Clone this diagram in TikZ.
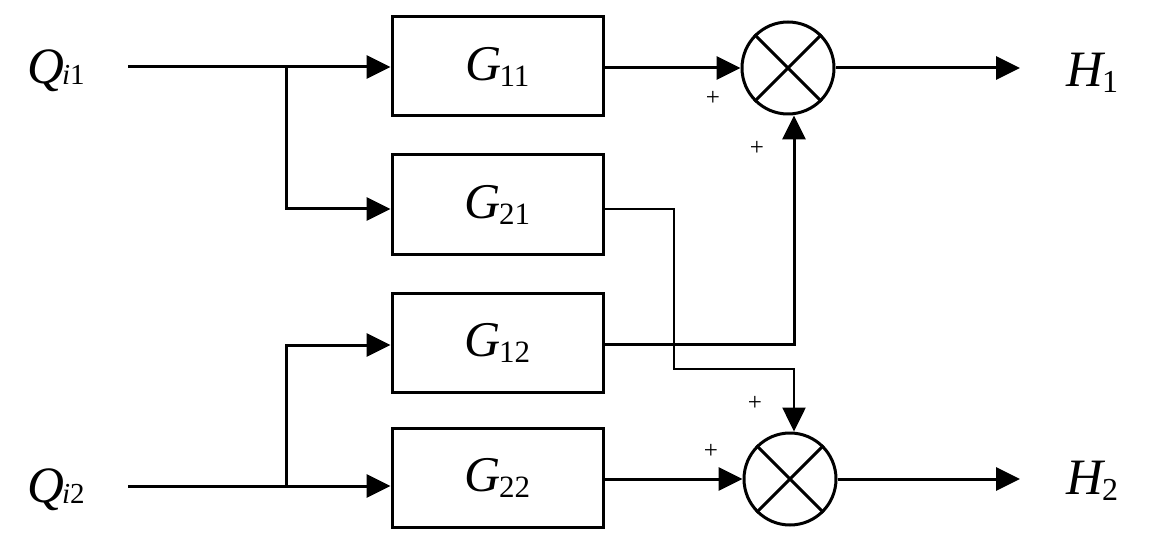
\documentclass[tikz,border=0pt]{standalone}
\usepackage{fontspec}
\setmainfont{Liberation Serif}
\usetikzlibrary{arrows.meta}
\tikzset{
  blk/.style={draw, line width=3pt, minimum width=211pt, minimum height=99pt, inner sep=0pt,
              font=\fontsize{50}{54}\selectfont},
  sumj/.style={draw, circle, line width=3pt, minimum size=92pt, inner sep=0pt},
  wire/.style={line width=3pt},
  arr/.style={wire, -{Triangle[length=24pt,width=23pt]}},
  pls/.style={inner sep=0pt, font=\fontsize{25}{25}\selectfont},
  lbl/.style={inner sep=0pt, anchor=base west, font=\fontsize{51}{54}\selectfont}
}
\newcommand{\gsub}[1]{{\itshape G}\kern-2pt\raisebox{-6pt}{\fontsize{31}{31}\selectfont #1}}
\begin{document}
\begin{tikzpicture}[x=1pt,y=-1pt]
\useasboundingbox (0,0) rectangle (1150,545);
% blocks
\node[blk] (g11) at (497.5,66.5) {\gsub{11}};
\node[blk] (g21) at (497.5,204.5) {\gsub{21}};
\node[blk] (g12) at (497.5,342.5) {\gsub{12}};
\node[blk] (g22) at (497.5,477.5) {\gsub{22}};
% summing junctions
\node[sumj] (s1) at (788,68) {};
\node[sumj] (s2) at (790,479) {};
\draw[wire] (s1.north west) -- (s1.south east) (s1.north east) -- (s1.south west);
\draw[wire] (s2.north west) -- (s2.south east) (s2.north east) -- (s2.south west);
% labels
\node[lbl] (lq1) at (27,84) {{\itshape Q}\kern-2pt\raisebox{-1pt}{\fontsize{29}{29}\selectfont\itshape i\upshape 1}};
\node[lbl] (lq2) at (27,502) {{\itshape Q}\kern-2pt\raisebox{-1pt}{\fontsize{29}{29}\selectfont\itshape i\upshape 2}};
\node[lbl] (lh1) at (1066,87) {{\itshape H}\kern-1pt\raisebox{-6pt}{\fontsize{32}{32}\selectfont 1}};
\node[lbl] (lh2) at (1066,494) {{\itshape H}\kern-1pt\raisebox{-6pt}{\fontsize{32}{32}\selectfont 2}};
% coordinates
\coordinate (q1) at (128,67);
\coordinate (q2) at (128,486);
\coordinate (j1) at (286,67);
\coordinate (j2) at (286,486);
\coordinate (h1) at (1020,68);
\coordinate (h2) at (1020,479);
\coordinate (c21) at (674,369);
% inputs
\draw[arr] (q1) -- (q1 -| g11.west);
\draw[arr] (j1) |- (g21.west |- 0,209);
\draw[arr] (q2) -- (q2 -| g22.west);
\draw[arr] (j2) |- (g12.west |- 0,345);
% outputs of blocks
\draw[arr] (g11.east |- 0,68) -- (s1.west);
\draw[arr] (g22.east |- 0,479) -- (s2.west);
\draw[arr] (g12.east |- 0,344) -| ([xshift=6pt]s1.south);
\draw[arr, line width=2.6pt] (g21.east |- 0,209) -| (c21) -| ([xshift=4pt]s2.north);
% outputs
\draw[arr] (s1.east) -- (h1);
\draw[arr] (s2.east) -- (h2);
% signs
\node[pls] (p1) at (713,98) {+};
\node[pls] (p2) at (757,148) {+};
\node[pls] (p3) at (755,403) {+};
\node[pls] (p4) at (711,451) {+};
\end{tikzpicture}
\end{document}
